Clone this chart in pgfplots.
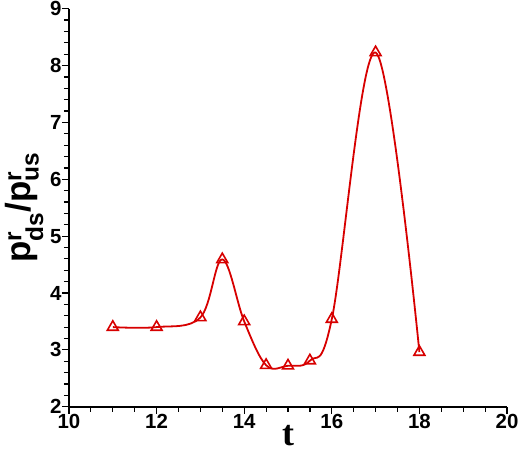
\documentclass[border=0pt]{standalone}
\usepackage{pgfplots}
\pgfplotsset{compat=1.18}
\usepackage{amsmath}
\usepackage{fontspec}
\setmainfont{Liberation Sans}
\newfontfamily\seriffont{Liberation Serif}
\definecolor{cred}{RGB}{215,0,0}
\begin{document}
\begin{tikzpicture}
\begin{axis}[
  scale only axis,
  width=438bp, height=398bp,
  xmin=10, xmax=20, ymin=2, ymax=9,
  axis x line*=bottom, axis y line*=left,
  axis line style={line width=1.8bp},
  xtick={10,12,...,20}, ytick={2,...,9},
  minor x tick num=3, minor y tick num=4,
  tick align=outside,
  major tick length=7bp, minor tick length=5bp,
  tick style={line width=1.2bp, black},
  /pgf/number format/assume math mode=true,
  ticklabel style={font=\fontsize{20.5}{20.5}\selectfont\bfseries},
  xticklabel style={yshift=3bp},
  yticklabel style={xshift=3bp},
  xlabel={\seriffont\bfseries t},
  xlabel style={font=\fontsize{36}{36}\selectfont, yshift=10bp},
  ylabel={\textbf{p$^{\text{r}}_{\text{ds}}$/p$^{\text{r}}_{\text{us}}$}},
  ylabel style={font=\fontsize{35}{35}\selectfont\bfseries, yshift=0bp},
  clip=false,
]
\addplot[cred, line width=1.8bp, smooth, tension=0.6, mark=triangle, mark size=6.3bp,
  mark options={line width=1.6bp, solid}]
  coordinates {
  (11,3.40) (12,3.40) (13,3.57) (13.5,4.59) (14,3.50) (14.5,2.73)
  (15,2.72) (15.5,2.81) (16,3.54) (17,8.23) (18,2.96)
  };
\end{axis}
\pgfresetboundingbox
\path[use as bounding box] (-69bp,-46.3bp) rectangle (451bp,406.7bp);
\end{tikzpicture}
\end{document}
